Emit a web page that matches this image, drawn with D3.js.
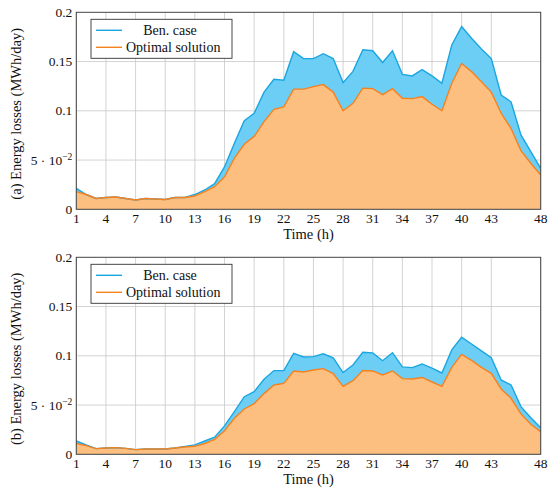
<!DOCTYPE html>
<html>
<head>
<meta charset="utf-8">
<script src="https://cdn.jsdelivr.net/npm/d3@7"></script>
<style>
  body { margin: 0; background: #fff; }
</style>
</head>
<body>
<svg id="chart"></svg>
<script>
const width = 550;
const height = 494;

// hours 1..48
const hours = d3.range(1, 49);

// (a) panel
const benA = [0.0213, 0.015, 0.011, 0.012, 0.0125, 0.011, 0.0095, 0.011, 0.0105, 0.010,
  0.012, 0.012, 0.015, 0.0196, 0.026, 0.043, 0.067, 0.090, 0.0975, 0.119,
  0.132, 0.131, 0.160, 0.153, 0.153, 0.158, 0.153, 0.1286, 0.140, 0.162,
  0.161, 0.149, 0.161, 0.137, 0.1354, 0.1418, 0.1354, 0.128, 0.1668, 0.1855,
  0.1736, 0.1628, 0.153, 0.116, 0.109, 0.0755, 0.0585, 0.0416];
const optA = [0.018, 0.015, 0.011, 0.012, 0.0125, 0.011, 0.0095, 0.011, 0.0105, 0.010,
  0.012, 0.012, 0.0135, 0.018, 0.023, 0.033, 0.052, 0.066, 0.074, 0.089,
  0.1015, 0.104, 0.122, 0.122, 0.1245, 0.1266, 0.119, 0.100, 0.1076, 0.123,
  0.1225, 0.1164, 0.1225, 0.1127, 0.1124, 0.1144, 0.1066, 0.100, 0.128, 0.148,
  0.1398, 0.1296, 0.119, 0.0975, 0.082, 0.0596, 0.0467, 0.0349];

// (b) panel
const benB = [0.0135, 0.0095, 0.0058, 0.0064, 0.0068, 0.006, 0.0047, 0.0054, 0.0054, 0.0054,
  0.0064, 0.0081, 0.0095, 0.0135, 0.0173, 0.0288, 0.0433, 0.0585, 0.0636, 0.0761,
  0.085, 0.085, 0.1025, 0.0988, 0.0992, 0.102, 0.098, 0.083, 0.0907, 0.1036,
  0.103, 0.095, 0.1032, 0.0887, 0.088, 0.0917, 0.0876, 0.0826, 0.106, 0.1188,
  0.112, 0.105, 0.098, 0.0755, 0.0704, 0.0484, 0.0372, 0.027];
const optB = [0.011, 0.0088, 0.0058, 0.0064, 0.0068, 0.006, 0.0047, 0.0054, 0.0054, 0.0054,
  0.0064, 0.0074, 0.0081, 0.011, 0.0152, 0.024, 0.0365, 0.046, 0.0514, 0.0616,
  0.0704, 0.072, 0.0846, 0.0836, 0.0856, 0.087, 0.082, 0.069, 0.0748, 0.085,
  0.0846, 0.0805, 0.0846, 0.0768, 0.0765, 0.078, 0.0734, 0.069, 0.0883, 0.1015,
  0.0954, 0.0883, 0.0822, 0.0663, 0.0569, 0.041, 0.0305, 0.023];

const xTicks = [1, 4, 7, 10, 13, 16, 19, 22, 25, 28, 31, 34, 37, 40, 43, 48];
const yTicks = [0, 0.05, 0.1, 0.15, 0.2];
const seriesNames = ["Ben. case", "Optimal solution"];

const blueLine = "#1ba6e0", blueFill = "#6ccef5";
const orangeLine = "#f5821f", orangeFill = "#fdbf80";

const svg = d3.select("#chart").attr("width", width).attr("height", height)
  .attr("font-family", "'Liberation Serif', 'Times New Roman', serif")
  .style("font-family", "'Liberation Serif', 'Times New Roman', serif")
  .attr("fill", "#111");

const x = d3.scaleLinear().domain([1, 48]).range([76.3, 540.7]);

function panel(top, label, ben, opt) {
  const bottom = top + 197;
  const y = d3.scaleLinear().domain([0, 0.2]).range([bottom, top]);
  const g = svg.append("g");

  // grid
  g.selectAll(".vg").data(xTicks).enter().append("line")
    .attr("x1", d => x(d)).attr("x2", d => x(d))
    .attr("y1", top).attr("y2", bottom)
    .attr("stroke", "#c8c8c8").attr("stroke-width", 0.8);
  g.selectAll(".hg").data(yTicks.slice(1, -1)).enter().append("line")
    .attr("x1", x.range()[0]).attr("x2", x.range()[1])
    .attr("y1", d => y(d)).attr("y2", d => y(d))
    .attr("stroke", "#c8c8c8").attr("stroke-width", 0.8);

  const area = vals => d3.area().x((d, i) => x(hours[i])).y0(y(0)).y1(d => y(d))(vals);
  const line = vals => d3.line().x((d, i) => x(hours[i])).y(d => y(d))(vals);

  g.append("path").attr("d", area(ben)).attr("fill", blueFill);
  g.append("path").attr("d", area(opt)).attr("fill", orangeFill);
  g.append("path").attr("d", line(ben)).attr("fill", "none")
    .attr("stroke", blueLine).attr("stroke-width", 1.4);
  g.append("path").attr("d", line(opt)).attr("fill", "none")
    .attr("stroke", orangeLine).attr("stroke-width", 1.4);

  // frame
  g.append("rect")
    .attr("x", x.range()[0]).attr("y", top)
    .attr("width", x.range()[1] - x.range()[0]).attr("height", bottom - top)
    .attr("fill", "none").attr("stroke", "#444").attr("stroke-width", 1);

  // x tick labels
  g.selectAll(".xt").data(xTicks).enter().append("text")
    .attr("x", d => x(d)).attr("y", bottom + 14)
    .attr("text-anchor", "middle").attr("font-size", 13.5)
    .text(d => d);

  // y tick labels
  const yt = g.selectAll(".yt").data(yTicks).enter().append("text")
    .attr("x", x.range()[0] - 4).attr("y", d => y(d) + 4.5)
    .attr("text-anchor", "end").attr("font-size", 13.5);
  yt.each(function (d) {
    const t = d3.select(this);
    if (d === 0.05) {
      t.append("tspan").text("5 \u00b7 10");
      t.append("tspan").attr("dy", -5).attr("font-size", 9.5).text("\u22122");
    } else {
      t.text(d3.format("")(d));
    }
  });

  // axis labels
  g.append("text")
    .attr("transform", `translate(21,${(top + bottom) / 2 + 3}) rotate(-90)`)
    .attr("text-anchor", "middle").attr("font-size", 14.5)
    .text(label);
  g.append("text")
    .attr("x", (x.range()[0] + x.range()[1]) / 2).attr("y", bottom + 29.5)
    .attr("text-anchor", "middle").attr("font-size", 14.5)
    .text("Time (h)");

  // legend
  const lg = g.append("g").attr("transform", `translate(91,${top + 7})`);
  lg.append("rect").attr("width", 141).attr("height", 39)
    .attr("fill", "#fff").attr("stroke", "#333").attr("stroke-width", 0.9);
  [blueLine, orangeLine].forEach((c, i) => {
    lg.append("line").attr("x1", 5).attr("x2", 31)
      .attr("y1", 11 + i * 17).attr("y2", 11 + i * 17)
      .attr("stroke", c).attr("stroke-width", 1.4);
  });
  lg.append("text").attr("x", 79).attr("y", 15.5).attr("text-anchor", "middle")
    .attr("font-size", 14).text(seriesNames[0]);
  lg.append("text").attr("x", 35).attr("y", 32.5)
    .attr("font-size", 14).text(seriesNames[1]);
}

panel(12.3, "(a) Energy losses (MWh/day)", benA, optA);
panel(257.3, "(b) Energy losses (MWh/day)", benB, optB);
</script>
</body>
</html>
